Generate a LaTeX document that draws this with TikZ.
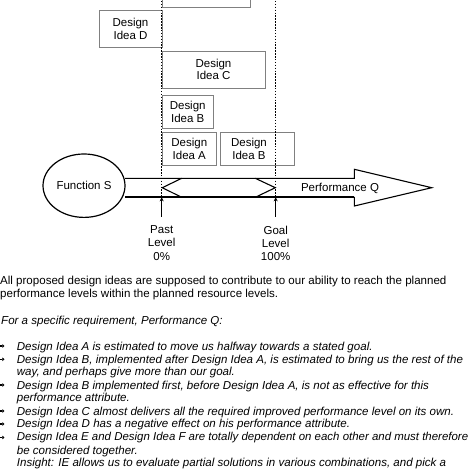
\documentclass[tikz,border=0pt]{standalone}
\usepackage{fontspec}
\setmainfont{Liberation Sans}
\usetikzlibrary{arrows.meta,shapes.geometric}
\begin{document}
\begin{tikzpicture}[x=1pt,y=-1pt,
  box/.style={draw=black!50, line width=0.9pt, inner sep=0pt, align=center,
    font=\fontsize{11.5}{12.3}\selectfont},
  lbl/.style={align=center, font=\fontsize{11.5}{13.3}\selectfont, inner sep=0pt},
  body/.style={anchor=base west, inner sep=0pt, font=\fontsize{11.55}{12.7}\selectfont},
  ibody/.style={anchor=base west, inner sep=0pt, font=\fontsize{11.55}{12.7}\selectfont\itshape},
  dotline/.style={dash pattern=on 1.5pt off 1.4pt, line width=1.5pt},
  chev/.style={line width=1.1pt},
  uparrow/.style={line width=0.8pt, shorten <=9pt, -{Stealth[length=4pt,width=4pt]}},
  bul/.style={line width=1.3pt, -{Triangle[length=2.2pt,width=3.6pt]}}
]
\useasboundingbox (0,0) rectangle (474,474);
\clip (0,0) rectangle (474,474);

% boxes
\node[box, minimum width=88pt, minimum height=40pt] (ideaEF) at (206,-13) {};
\node[box, minimum width=63pt, minimum height=36.6pt] (ideaD) at (130.5,29) {Design\\Idea D};
\node[box, minimum width=103pt, minimum height=37.3pt] (ideaC) at (213.5,69.7) {Design\\Idea C};
\node[box, minimum width=51.3pt, minimum height=32.6pt] (ideaB1) at (187.7,112) {Design\\Idea B};
\node[box, minimum width=54.7pt, minimum height=33.4pt] (ideaA) at (189.3,149) {Design\\Idea A};
\node[box, minimum width=74pt, minimum height=33.4pt] (ideaB2) at (257.3,149) {};
\node[box, draw=none] (ideaB2t) at (249,149) {Design\\Idea B};

% big arrow
\draw[line width=1.1pt, fill=white] (125,178.3) -- (354.3,178.3) -- (354.3,169.3)
  -- (431.7,187.7) -- (354.3,206) -- (354.3,197.3) -- (125,197.3);
\draw[line width=1.7pt] (125,197.3) -- (354.3,197.3);
\node[lbl] (perf) at (340,188) {Performance Q};

% function ellipse
\node[ellipse, draw, line width=1.2pt, fill=white, minimum width=82pt,
  minimum height=63.4pt, inner sep=0pt, font=\fontsize{11.5}{12.3}\selectfont]
  (fs) at (84,185.7) {Function S};

% chevrons
\draw[chev] (181.7,178.3) -- (162.3,187.7) -- (181.7,197.3);
\draw[chev] (255.3,178.3) -- (275.3,187.7) -- (255.3,197.3);

% dotted lines
\coordinate (pTop) at (161.7,-2);
\coordinate (pBot) at (161.7,197.3);
\coordinate (gTop) at (275.7,-2);
\coordinate (gBot) at (275.7,197.3);
\draw[dotline] (pTop) -- (pBot);
\draw[dotline] (gTop) -- (gBot);

% level labels and arrows
\node[lbl, anchor=north] (past) at (161.7,225.5) {Past\\Level\\0\%};
\node[lbl, anchor=north] (goal) at (275.7,225.5) {Goal\\Level\\100\%};
\draw[uparrow] (past.north) -- (pBot);
\draw[uparrow] (goal.north) -- (gBot);

% text
\node[body] (t1) at (0,284.7) {All proposed design ideas are supposed to contribute to our ability to reach the planned};
\node[body] (t2) at (0,297.3) {performance levels within the planned resource levels.};
\node[ibody] (t3) at (1,324) {For a specific requirement, Performance Q:};

\node[ibody] (b1) at (16.7,350) {Design Idea A is estimated to move us halfway towards a stated goal.};
\node[ibody] (b2) at (16.7,363) {Design Idea B, implemented after Design Idea A, is estimated to bring us the rest of the};
\node[ibody] (b2b) at (16.7,375.7) {way, and perhaps give more than our goal.};
\node[ibody] (b3) at (16.7,389) {Design Idea B implemented first, before Design Idea A, is not as effective for this};
\node[ibody] (b3b) at (16.7,401.7) {performance attribute.};
\node[ibody] (b4) at (16.7,415.7) {Design Idea C almost delivers all the required improved performance level on its own.};
\node[ibody] (b5) at (16.7,427.7) {Design Idea D has a negative effect on his performance attribute.};
\node[ibody, font=\fontsize{11.45}{12.7}\selectfont\itshape] (b6) at (16.7,440.7) {Design Idea E and Design Idea F are totally dependent on each other and must therefore};
\node[ibody] (b6b) at (16.7,454.7) {be considered together.};
\node[ibody] (ins) at (16.7,466.7) {Insight: IE allows us to evaluate partial solutions in various combinations, and pick a};

% bullets
\foreach \yy in {346,359.3,385,411,424,437.5}
  \draw[bul] (0,\yy) -- (4.5,\yy);
\end{tikzpicture}
\end{document}
